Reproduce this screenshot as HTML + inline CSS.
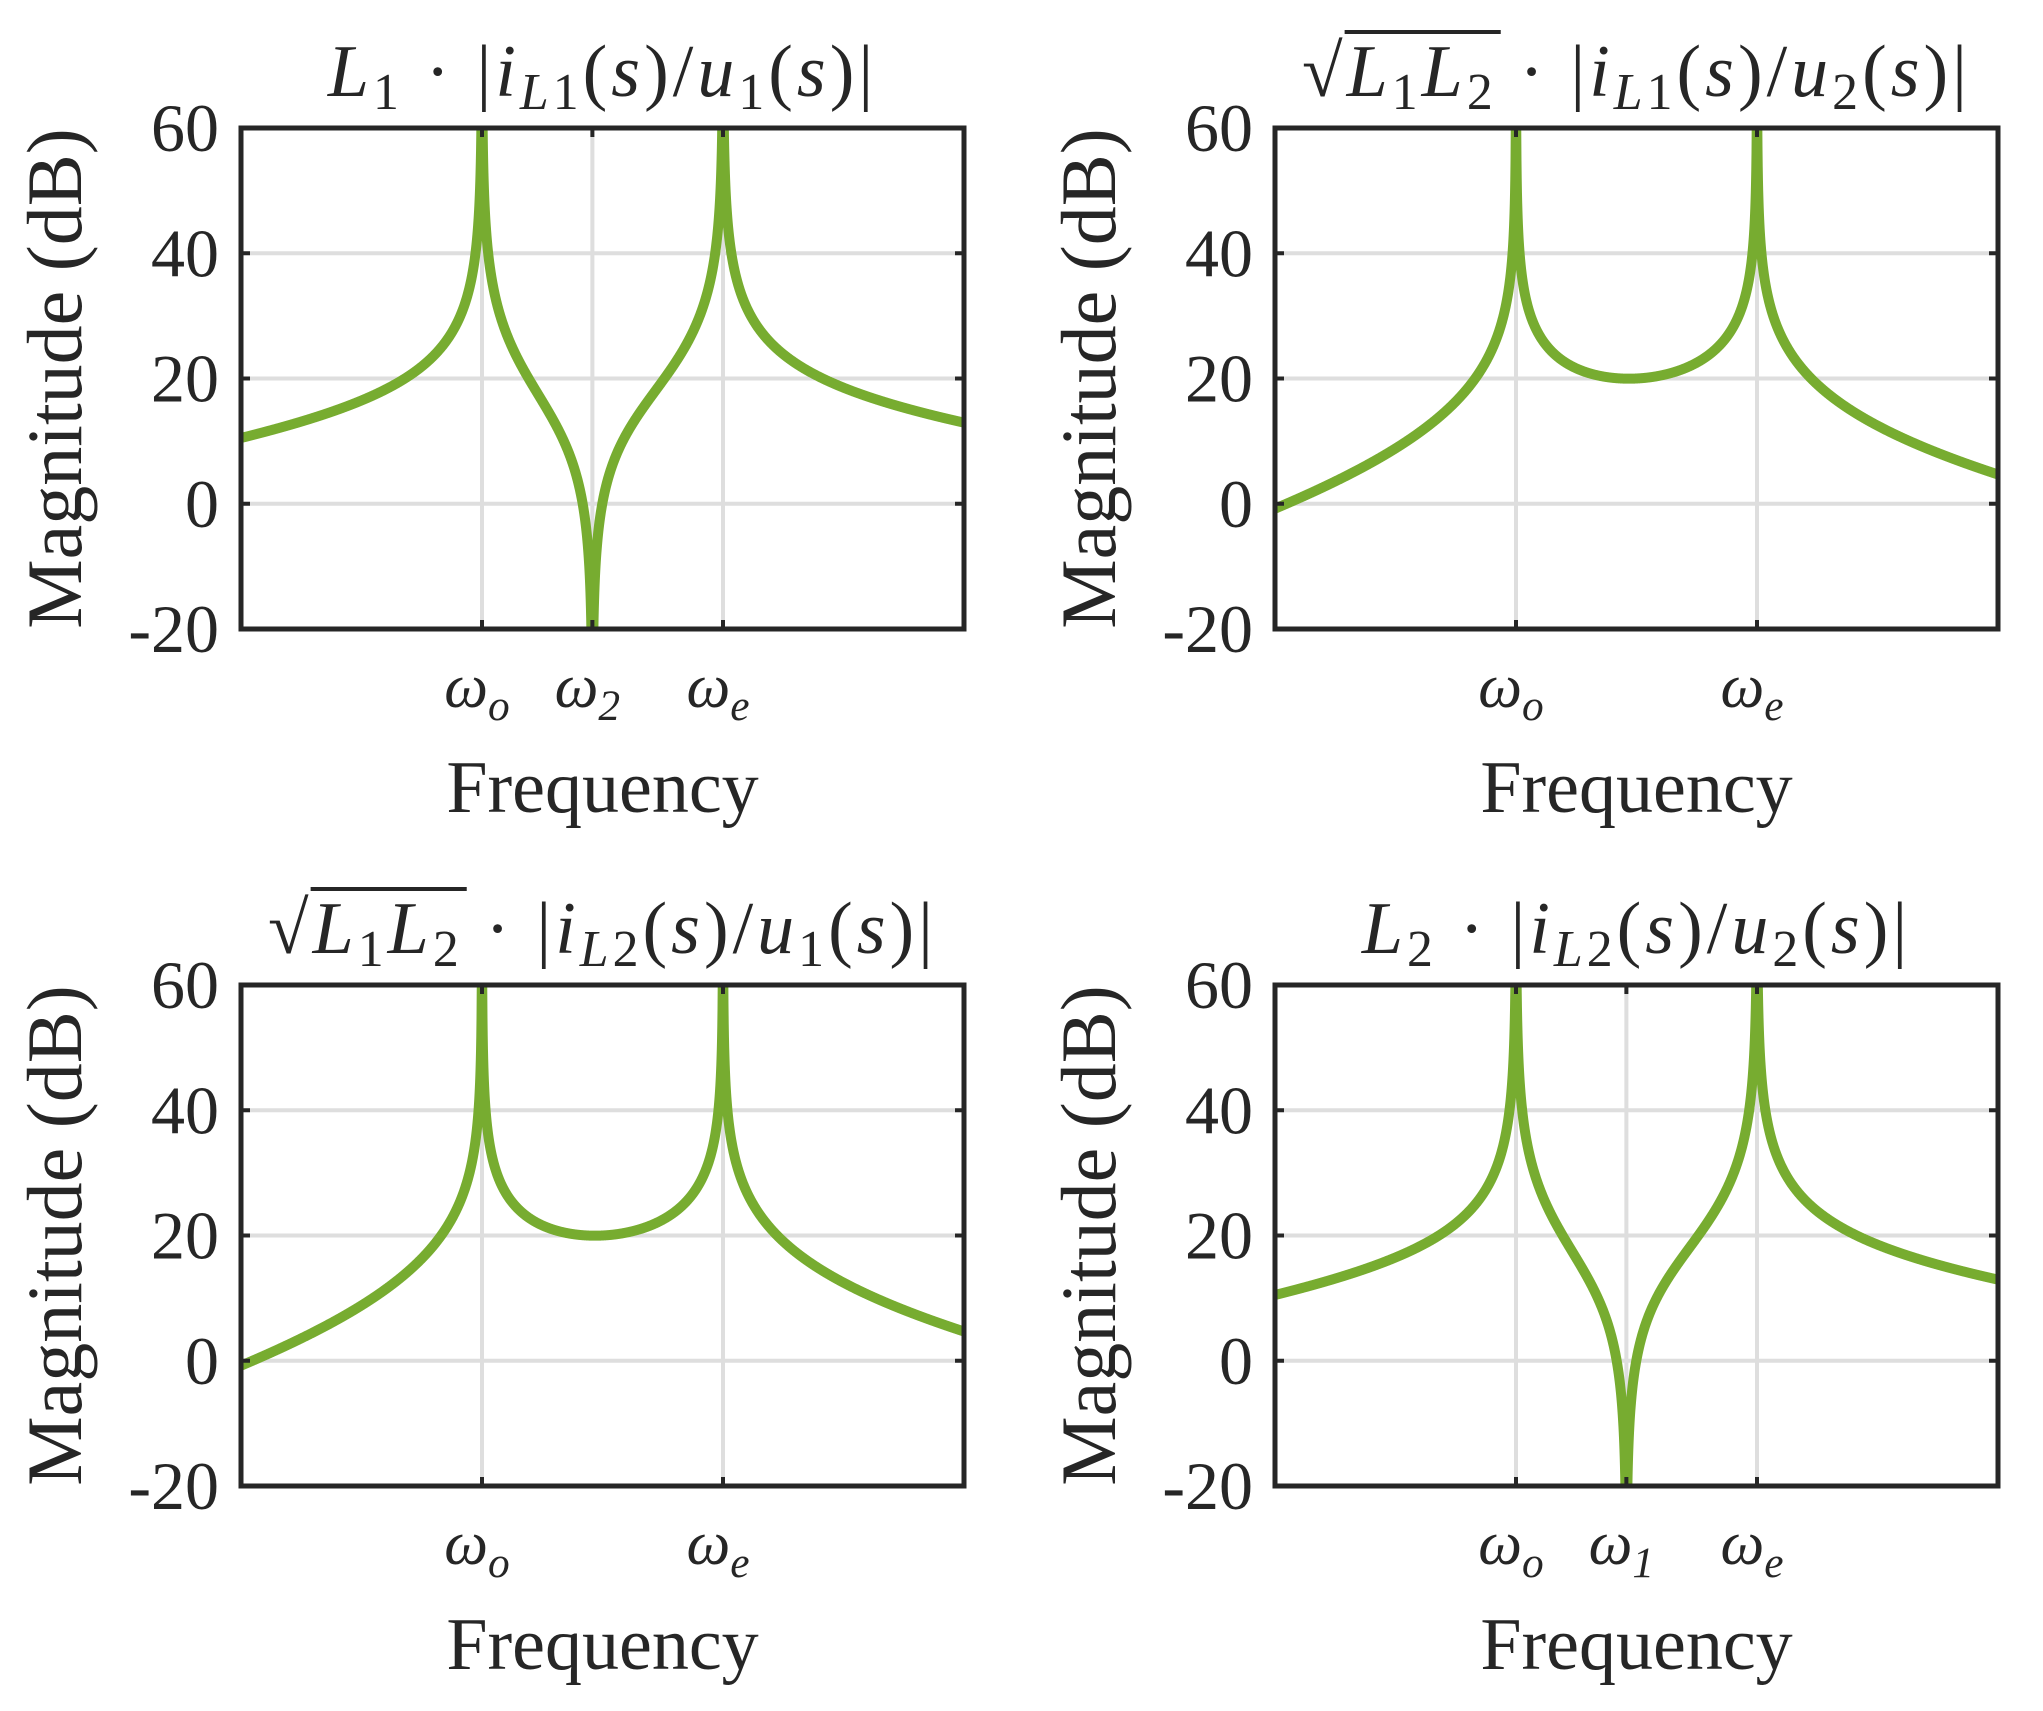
<!DOCTYPE html>
<html><head><meta charset="utf-8"><style>
html,body{margin:0;padding:0;background:#fff;width:2043px;height:1711px;overflow:hidden}
svg text{font-family:"Liberation Serif",serif;fill:#262626}
.it{font-style:italic}
</style></head><body>
<svg id="s" width="2043" height="1711" xmlns="http://www.w3.org/2000/svg"></svg>
<script>
const S=document.getElementById('s');
const NS='http://www.w3.org/2000/svg';
function el(t,a,txt){const e=document.createElementNS(NS,t);for(const k in a)e.setAttribute(k,a[k]);if(txt!==undefined)e.innerHTML=txt;S.appendChild(e);return e;}
const W=723,H=501;
const sub=(c,it)=>'<tspan font-size="0.7em" dy="13"'+(it?' class="it"':'')+'>'+c+'</tspan>';
const panels=[
 {x:241,y:128,type:'d',mark:['ω'+sub('o',1),'ω'+sub('2'),'ω'+sub('e',1)],
  title:'<tspan class="it">L</tspan>'+sub('1')+'<tspan dy="-13"> · |</tspan><tspan class="it">i</tspan><tspan font-size="0.7em" dy="13" class="it">L</tspan><tspan font-size="0.7em">1</tspan><tspan dy="-13">(</tspan><tspan class="it">s</tspan>)/<tspan class="it">u</tspan>'+sub('1')+'<tspan dy="-13">(</tspan><tspan class="it">s</tspan>)|'},
 {x:1275,y:128,type:'o',mark:['ω'+sub('o',1),null,'ω'+sub('e',1)],
  title:'√<tspan class="it">L</tspan>'+sub('1')+'<tspan dy="-13" class="it">L</tspan>'+sub('2')+'<tspan dy="-13"> · |</tspan><tspan class="it">i</tspan><tspan font-size="0.7em" dy="13" class="it">L</tspan><tspan font-size="0.7em">1</tspan><tspan dy="-13">(</tspan><tspan class="it">s</tspan>)/<tspan class="it">u</tspan>'+sub('2')+'<tspan dy="-13">(</tspan><tspan class="it">s</tspan>)|',sq:true},
 {x:241,y:985,type:'o',mark:['ω'+sub('o',1),null,'ω'+sub('e',1)],
  title:'√<tspan class="it">L</tspan>'+sub('1')+'<tspan dy="-13" class="it">L</tspan>'+sub('2')+'<tspan dy="-13"> · |</tspan><tspan class="it">i</tspan><tspan font-size="0.7em" dy="13" class="it">L</tspan><tspan font-size="0.7em">2</tspan><tspan dy="-13">(</tspan><tspan class="it">s</tspan>)/<tspan class="it">u</tspan>'+sub('1')+'<tspan dy="-13">(</tspan><tspan class="it">s</tspan>)|',sq:true},
 {x:1275,y:985,type:'d',mark:['ω'+sub('o',1),'ω'+sub('1'),'ω'+sub('e',1)],
  title:'<tspan class="it">L</tspan>'+sub('2')+'<tspan dy="-13"> · |</tspan><tspan class="it">i</tspan><tspan font-size="0.7em" dy="13" class="it">L</tspan><tspan font-size="0.7em">2</tspan><tspan dy="-13">(</tspan><tspan class="it">s</tspan>)/<tspan class="it">u</tspan>'+sub('2')+'<tspan dy="-13">(</tspan><tspan class="it">s</tspan>)|'}
];
const tn=0.486;
const d=0.301;
function wOf(t){return Math.pow(10,(t-1/3)*3*d);}
const w2=wOf(tn), we=2;
function magD(w){return 20*Math.log10(Math.abs(w*(w2*w2-w*w)/((1-w*w)*(we*we-w*w))));}
function magO(w){return 20*Math.log10(Math.abs(Math.pow(w,2.3)/((1-w*w)*(we*we-w*w))));}
const kD=10.5-magD(wOf(0));
const kO=20-magO(Math.sqrt(2));
panels.forEach(p=>{
  const X=t=>p.x+t*W, Y=v=>p.y+(60-v)/80*H;
  [40,20,0].forEach(v=>el('line',{x1:p.x,x2:p.x+W,y1:Y(v),y2:Y(v),stroke:'#dedede','stroke-width':4}));
  const ts=[1/3,tn,2/3];
  ts.forEach((t,i)=>{if(p.mark[i])el('line',{x1:X(t),x2:X(t),y1:p.y,y2:p.y+H,stroke:'#dedede','stroke-width':4});});
  let pts=[];const N=3000;
  for(let i=0;i<=N;i++){const t=i/N;const w=wOf(t);let v;
    if(p.type=='d'){v=magD(w)+kD+1.8*t; if(!isFinite(v)) v=(Math.abs(w-w2)<1e-6)?-100:100;}
    else{v=magO(w)+kO; if(!isFinite(v)) v=100; v=20+(v-20)*0.859+0.8*(t-0.5);}
    v=Math.max(-22,Math.min(62,v));pts.push(X(t).toFixed(2)+','+Y(v).toFixed(2));}
  const cp='c'+p.x+'_'+p.y;
  const c=el('clipPath',{id:cp});const r=document.createElementNS(NS,'rect');r.setAttribute('x',p.x);r.setAttribute('y',p.y);r.setAttribute('width',W);r.setAttribute('height',H);c.appendChild(r);
  el('polyline',{points:pts.join(' '),fill:'none',stroke:'#77AC30','stroke-width':10,'stroke-linejoin':'round','clip-path':'url(#'+cp+')'});
  [60,40,20,0,-20].forEach(v=>{el('line',{x1:p.x,x2:p.x+9,y1:Y(v),y2:Y(v),stroke:'#262626','stroke-width':4});el('line',{x1:p.x+W-9,x2:p.x+W,y1:Y(v),y2:Y(v),stroke:'#262626','stroke-width':4});
    el('text',{x:p.x-22,y:Y(v)+23,'text-anchor':'end','font-size':68},String(v));});
  ts.forEach((t,i)=>{if(!p.mark[i])return;el('line',{x1:X(t),x2:X(t),y1:p.y+H-9,y2:p.y+H,stroke:'#262626','stroke-width':4});el('line',{x1:X(t),x2:X(t),y1:p.y,y2:p.y+9,stroke:'#262626','stroke-width':4});
    el('text',{x:X(t)-5,y:p.y+H+78,'text-anchor':'middle','font-size':62,class:'it'},p.mark[i]);});
  el('rect',{x:p.x,y:p.y,width:W,height:H,fill:'none',stroke:'#262626','stroke-width':5});
  el('text',{x:p.x+W/2,y:p.y+H+183,'text-anchor':'middle','font-size':74},'Frequency');
  el('text',{x:0,y:0,'text-anchor':'middle','font-size':78,transform:'translate('+(p.x-160)+','+(p.y+H/2)+') rotate(-90)'},'Magnitude (dB)');
  const tt=el('text',{x:p.x+W/2,y:p.y-32,'text-anchor':'middle','font-size':74,'letter-spacing':4},p.title);
  if(p.sq){try{const x1=tt.getEndPositionOfChar(0).x,x2=tt.getEndPositionOfChar(4).x;
    el('line',{x1:x1-2,x2:x2+4,y1:p.y-96,y2:p.y-96,stroke:'#262626','stroke-width':4});}catch(e){}}
});
</script>
</body></html>
